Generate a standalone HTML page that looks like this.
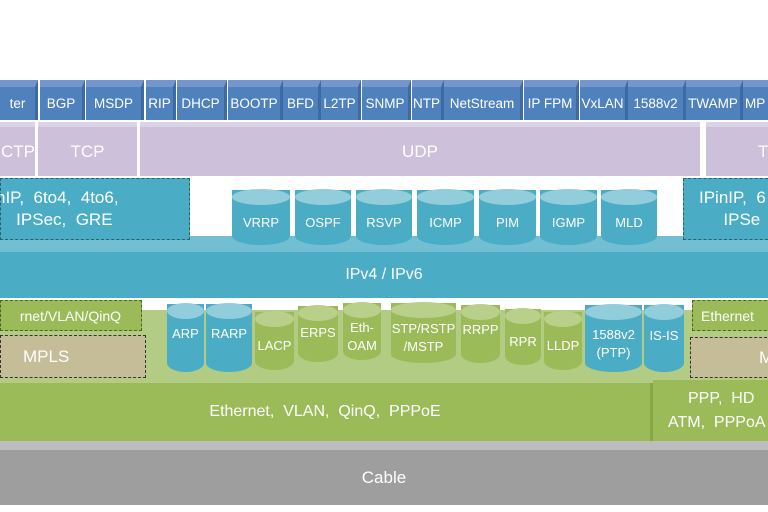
<!DOCTYPE html>
<html><head><style>
body{margin:0;width:768px;height:512px;background:#fff;position:relative;overflow:hidden;font-family:"Liberation Sans",sans-serif;color:#fff}
.a{position:absolute;box-sizing:border-box;display:flex;align-items:center;justify-content:center;text-align:center}
.b{background:#4f81bd;border-top:7px solid #7397cc;border-right:3px solid #3d6aa3;font-size:13.5px;line-height:1;white-space:nowrap}
.p{background:#ccc0da;border-top:5px solid #ddd3e6;font-size:17px}
.cy{position:absolute;box-sizing:border-box;display:flex;align-items:center;justify-content:center;text-align:center;font-size:13px;border-radius:0 0 50% 50%/0 0 9px 9px}
.cy::before{content:"";position:absolute;left:0;right:0;top:-1px;height:16px;border-radius:50%;}
.t{background:#4bacc6}.t::before{background:#92cddc}
.g{background:#9bbb59}.g::before{background:#b8d08a}
.cy span{position:relative;top:5px;line-height:1.35}
</style></head><body>
<div class="a b" style="left:0;top:80px;width:38px;height:40px">ter</div>
<div class="a b" style="left:40px;top:80px;width:45px;height:40px">BGP</div>
<div class="a b" style="left:86px;top:80px;width:58px;height:40px">MSDP</div>
<div class="a b" style="left:146px;top:80px;width:30px;height:40px">RIP</div>
<div class="a b" style="left:177px;top:80px;width:50px;height:40px">DHCP</div>
<div class="a b" style="left:228px;top:80px;width:55px;height:40px">BOOTP</div>
<div class="a b" style="left:283px;top:80px;width:38px;height:40px">BFD</div>
<div class="a b" style="left:321px;top:80px;width:40px;height:40px">L2TP</div>
<div class="a b" style="left:362px;top:80px;width:49px;height:40px">SNMP</div>
<div class="a b" style="left:412px;top:80px;width:32px;height:40px">NTP</div>
<div class="a b" style="left:444px;top:80px;width:79px;height:40px">NetStream</div>
<div class="a b" style="left:524px;top:80px;width:55px;height:40px">IP FPM</div>
<div class="a b" style="left:580px;top:80px;width:48px;height:40px">VxLAN</div>
<div class="a b" style="left:628px;top:80px;width:58px;height:40px">1588v2</div>
<div class="a b" style="left:686px;top:80px;width:57px;height:40px">TWAMP</div>
<div class="a b" style="left:743px;top:80px;width:30px;height:40px;justify-content:flex-start;padding-left:2px">MP</div>
<div class="a p" style="left:0;top:122px;width:35px;height:54px;justify-content:flex-end">CTP</div>
<div class="a p" style="left:38px;top:122px;width:99px;height:54px">TCP</div>
<div class="a p" style="left:140px;top:122px;width:560px;height:54px">UDP</div>
<div class="a p" style="left:706px;top:122px;width:70px;height:54px;justify-content:flex-start;padding-left:52px">T</div>
<div class="a" style="left:0;top:236px;width:768px;height:16px;background:#72bed3"></div>
<div class="a" style="left:0;top:252px;width:768px;height:46px;background:#4bacc6;font-size:16px">IPv4 / IPv6</div>
<div class="a" style="left:0;top:178px;width:190px;height:62px;background:#4bacc6;border:1px dashed #2f5f6e;font-size:17px;line-height:1.3;justify-content:flex-start;white-space:nowrap"><span style="margin-left:-5px">nIP, &nbsp;6to4, &nbsp;4to6,<br>&nbsp;&nbsp;&nbsp;IPSec, &nbsp;GRE</span></div>
<div class="a" style="left:683px;top:178px;width:90px;height:62px;background:#4bacc6;border:1px dashed #2f5f6e;font-size:17px;line-height:1.3;justify-content:flex-start;padding-left:15px;white-space:nowrap">IPinIP, &nbsp;6<br>&nbsp;&nbsp;&nbsp;&nbsp;IPSe</div>
<div class="cy t" style="left:232px;top:190px;width:58px;height:55px"><span>VRRP</span></div>
<div class="cy t" style="left:295px;top:190px;width:56px;height:55px"><span>OSPF</span></div>
<div class="cy t" style="left:356px;top:190px;width:56px;height:55px"><span>RSVP</span></div>
<div class="cy t" style="left:417px;top:190px;width:57px;height:55px"><span>ICMP</span></div>
<div class="cy t" style="left:479px;top:190px;width:57px;height:55px"><span>PIM</span></div>
<div class="cy t" style="left:540px;top:190px;width:57px;height:55px"><span>IGMP</span></div>
<div class="cy t" style="left:601px;top:190px;width:56px;height:55px"><span>MLD</span></div>
<div class="a" style="left:0;top:310px;width:768px;height:73px;background:#b3cc83"></div>
<div class="a" style="left:0;top:383px;width:768px;height:58px;background:#87a64a"></div>
<div class="a" style="left:0;top:383px;width:650px;height:58px;background:#9bbb59;font-size:16px">Ethernet, &nbsp;VLAN, &nbsp;QinQ, &nbsp;PPPoE</div>
<div class="a" style="left:653px;top:380px;width:120px;height:61px;background:#9bbb59;font-size:16px;line-height:1.45;justify-content:flex-start;padding-left:15px;white-space:nowrap">&nbsp;&nbsp;PPP, &nbsp;HD<br>ATM, &nbsp;PPPoA</div>
<div class="a" style="left:0;top:441px;width:768px;height:9px;background:#bdbdbd"></div>
<div class="a" style="left:0;top:450px;width:768px;height:55px;background:#9e9e9e;font-size:17px">Cable</div>
<div class="a" style="left:0;top:300px;width:142px;height:31px;background:#9bbb59;border:1px dashed #4f6228;font-size:14px;justify-content:flex-end;padding-right:20px">rnet/VLAN/QinQ</div>
<div class="a" style="left:0;top:335px;width:146px;height:43px;background:#c4bd97;border:1px dashed #333;font-size:17px;justify-content:flex-start;padding-left:22px">MPLS</div>
<div class="a" style="left:692px;top:300px;width:80px;height:31px;background:#9bbb59;border:1px dashed #4f6228;font-size:14px;justify-content:flex-start;padding-left:8px">Ethernet</div>
<div class="a" style="left:690px;top:337px;width:82px;height:41px;background:#c4bd97;border:1px dashed #333;font-size:17px;justify-content:flex-start;padding-left:68px">M</div>
<div class="cy t" style="left:167px;top:304px;width:37px;height:68px"><span style="top:-4px">ARP</span></div>
<div class="cy t" style="left:206px;top:304px;width:46px;height:68px"><span style="top:-4px">RARP</span></div>
<div class="cy g" style="left:255px;top:312px;width:39px;height:58px"><span>LACP</span></div>
<div class="cy g" style="left:298px;top:306px;width:40px;height:56px"><span style="top:-1px">ERPS</span></div>
<div class="cy g" style="left:343px;top:303px;width:38px;height:57px"><span>Eth-<br>OAM</span></div>
<div class="cy g" style="left:391px;top:303px;width:65px;height:60px"><span>STP/RSTP<br>/MSTP</span></div>
<div class="cy g" style="left:461px;top:305px;width:39px;height:58px"><span style="top:-4px">RRPP</span></div>
<div class="cy g" style="left:505px;top:309px;width:36px;height:56px"><span>RPR</span></div>
<div class="cy g" style="left:544px;top:312px;width:38px;height:58px"><span>LLDP</span></div>
<div class="cy t" style="left:585px;top:305px;width:57px;height:67px"><span>1588v2<br>(PTP)</span></div>
<div class="cy t" style="left:644px;top:305px;width:40px;height:67px"><span style="top:-3px">IS-IS</span></div>
</body></html>
